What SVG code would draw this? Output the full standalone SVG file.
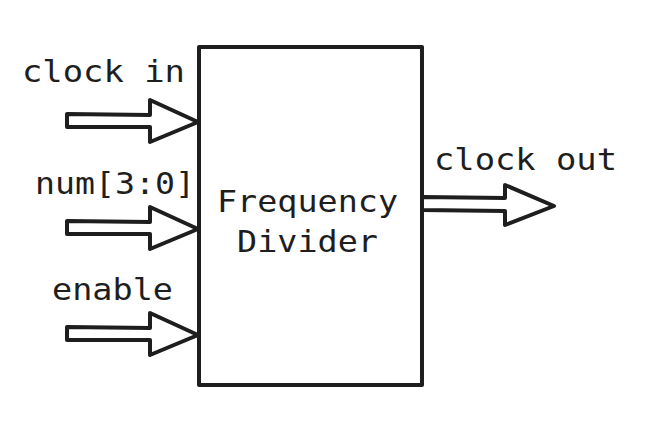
<svg xmlns="http://www.w3.org/2000/svg" width="658" height="443" viewBox="0 0 658 443">
<style>
.s{fill:#fff;stroke:#1e1e1e;stroke-width:4;stroke-linejoin:round}
text{font-family:"DejaVu Sans Mono","Liberation Mono",monospace;font-size:30px;fill:#1e1e1e}
</style>
<rect width="658" height="443" fill="#fff"/>
<g id="connectors">
<polygon class="s" points="67,114 150,115 150,100 198,122 150,142 150,127 67,127"/>
<polygon class="s" points="67,221 150,222 150,207 198,229 150,249 150,234 67,234"/>
<polygon class="s" points="67,327 150,328 150,313 198,335 150,355 150,340 67,340"/>
<polygon class="s" points="422,197 505,198 505,185 554,206 505,225 505,211 422,210"/>
</g>
<g id="divider">
<rect class="s" x="199" y="47" width="223" height="338"/>
<text x="217" y="212" textLength="181" lengthAdjust="spacingAndGlyphs">Frequency</text>
<text x="237" y="252" textLength="141" lengthAdjust="spacingAndGlyphs">Divider</text>
</g>
<g id="labels">
<text x="22" y="82" textLength="163" lengthAdjust="spacingAndGlyphs">clock in</text>
<text x="35" y="194" textLength="160" lengthAdjust="spacingAndGlyphs">num[3:0]</text>
<text x="52" y="300" textLength="121" lengthAdjust="spacingAndGlyphs">enable</text>
<text x="434" y="170" textLength="183" lengthAdjust="spacingAndGlyphs">clock out</text>
</g>
</svg>
